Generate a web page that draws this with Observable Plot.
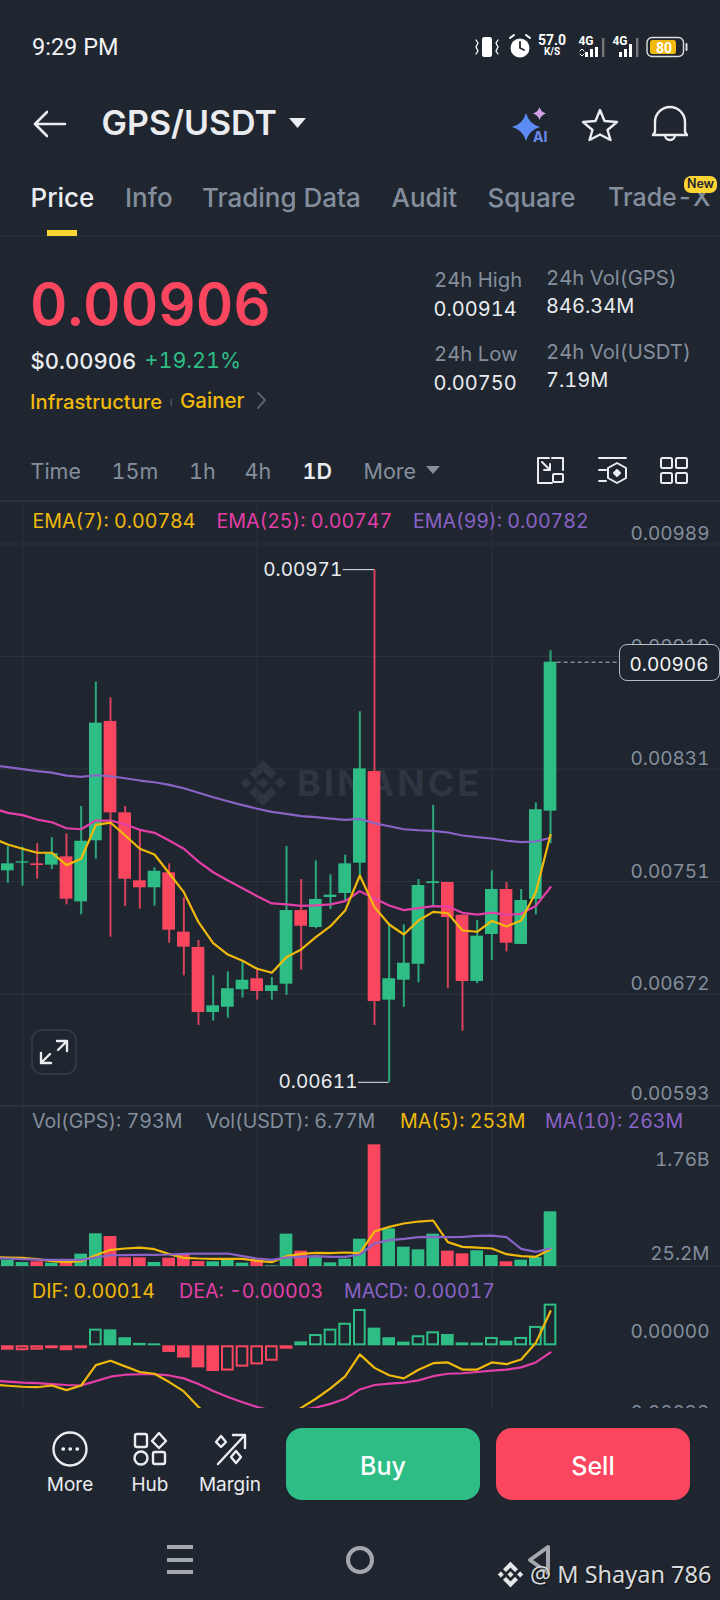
<!DOCTYPE html>
<html>
<head>
<meta charset="utf-8">
<script src="https://cdn.jsdelivr.net/npm/d3@7"></script>
<script src="https://cdn.jsdelivr.net/npm/@observablehq/plot@0.6"></script>
<style>
html,body{margin:0;padding:0;background:#1f2630}
#page{position:relative;width:720px;height:1600px;overflow:hidden;background:#1f2630;font-family:Inter,sans-serif;font-variant-numeric:tabular-nums}
.pane{position:absolute;left:0;width:720px}
.pane svg{display:block;background:transparent;font-variant-numeric:tabular-nums}
.t{position:absolute;line-height:1;white-space:nowrap}
</style>
</head>
<body>
<div id="page"></div>
<script>
// ---- price pane values
const open = [0.007595,0.007649,0.007644,0.007635,0.007693,0.007377,0.007806,0.008644,0.008002,0.007525,0.007476,0.007581,0.007164,0.007057,0.006600,0.006637,0.006760,0.006837,0.006748,0.006799,0.007316,0.007197,0.007408,0.007436,0.007649,0.008292,0.006687,0.006827,0.006939,0.007506,0.007513,0.007283,0.006818,0.007148,0.007464,0.007078,0.007394,0.008014];
const close = [0.007644,0.007658,0.007632,0.007715,0.007396,0.007803,0.008632,0.008002,0.007536,0.007476,0.007592,0.007178,0.007059,0.006600,0.006647,0.006767,0.006827,0.006748,0.006788,0.007316,0.007206,0.007394,0.007424,0.007644,0.008311,0.006677,0.006837,0.006946,0.007492,0.007518,0.007267,0.006818,0.007136,0.007464,0.007087,0.007387,0.008024,0.009060];
const high = [0.007766,0.007761,0.007785,0.007827,0.007855,0.008047,0.008920,0.008810,0.008047,0.007878,0.007616,0.007644,0.007406,0.007106,0.006858,0.006886,0.006965,0.006907,0.006846,0.007766,0.007534,0.007665,0.007567,0.007705,0.008712,0.009710,0.007223,0.007216,0.007534,0.008054,0.007513,0.007283,0.007246,0.007595,0.007513,0.007464,0.008073,0.009140];
const low = [0.007508,0.007487,0.007536,0.007604,0.007356,0.007286,0.007677,0.007129,0.007344,0.007326,0.007347,0.007087,0.006858,0.006509,0.006539,0.006560,0.006701,0.006687,0.006687,0.006720,0.006897,0.007188,0.007323,0.007380,0.007562,0.006509,0.006110,0.006637,0.006809,0.007340,0.006767,0.006469,0.006802,0.006965,0.007026,0.007078,0.007286,0.007785];
const ema7 = [0.007822,0.007780,0.007750,0.007722,0.007722,0.007635,0.007680,0.007918,0.007934,0.007843,0.007750,0.007710,0.007578,0.007445,0.007234,0.007087,0.007007,0.006963,0.006907,0.006879,0.006989,0.007043,0.007129,0.007206,0.007316,0.007562,0.007340,0.007218,0.007148,0.007246,0.007307,0.007297,0.007176,0.007167,0.007244,0.007204,0.007246,0.007445,0.007848];
const ema25 = [0.008033,0.008002,0.007986,0.007955,0.007936,0.007894,0.007887,0.007948,0.007948,0.007920,0.007883,0.007862,0.007808,0.007750,0.007660,0.007585,0.007527,0.007473,0.007417,0.007366,0.007359,0.007349,0.007352,0.007359,0.007382,0.007452,0.007401,0.007352,0.007319,0.007333,0.007347,0.007344,0.007300,0.007288,0.007302,0.007286,0.007293,0.007349,0.007480];
const ema99 = [0.008335,0.008323,0.008309,0.008295,0.008285,0.008264,0.008255,0.008266,0.008259,0.008245,0.008229,0.008217,0.008199,0.008175,0.008143,0.008112,0.008084,0.008056,0.008031,0.008009,0.007995,0.007979,0.007972,0.007962,0.007953,0.007960,0.007929,0.007908,0.007887,0.007880,0.007876,0.007864,0.007843,0.007831,0.007822,0.007806,0.007796,0.007801,0.007827];
const gridPrices = [0.00989,0.00910,0.00831,0.00752,0.00673,0.00594];
const priceLabels = ["0.00989","0.00910","0.00831","0.00751","0.00672","0.00593"];
const lastPrice = 0.00906, highPrice = 0.00971, lowPrice = 0.00611, highIdx = 25, lowIdx = 26;
// ---- volume pane values (millions)
const volume = [92,58,68,48,58,179,474,435,126,126,58,121,169,72,68,106,48,97,10,469,222,145,53,106,396,1764,546,280,242,469,222,184,228,160,68,92,130,793];
const volMA5 = [132,130,126,106,77,63,77,164,242,261,275,251,179,126,116,111,111,111,82,63,150,184,198,193,203,193,507,575,623,652,667,353,285,275,261,179,150,140,251];
const volMA10 = [118,116,106,101,97,97,97,130,164,164,169,169,174,184,188,188,188,150,116,97,130,140,150,140,140,174,333,382,401,425,430,425,430,444,449,425,256,213,261];
const volLabels = [{v:1764,s:"1.76B"},{v:25.2,s:"25.2M"}];
// ---- MACD pane values
const hist = [-0.000018,-0.000020,-0.000018,-0.000012,-0.000020,-0.000012,0.000068,0.000065,0.000033,0.000010,0.000008,-0.000027,-0.000050,-0.000090,-0.000105,-0.000103,-0.000087,-0.000078,-0.000063,-0.000014,0.000016,0.000046,0.000068,0.000092,0.000148,0.000072,0.000033,0.000015,0.000041,0.000057,0.000046,0.000012,0.000011,0.000034,0.000019,0.000034,0.000079,0.000170];
const dif = [-0.000158,-0.000163,-0.000167,-0.000169,-0.000162,-0.000181,-0.000162,-0.000079,-0.000061,-0.000084,-0.000107,-0.000114,-0.000148,-0.000186,-0.000250,-0.000300,-0.000340,-0.000360,-0.000380,-0.000385,-0.000300,-0.000253,-0.000216,-0.000174,-0.000125,-0.000035,-0.000090,-0.000120,-0.000133,-0.000098,-0.000071,-0.000068,-0.000097,-0.000097,-0.000068,-0.000075,-0.000056,0.000012,0.000141];
const dea = [-0.000142,-0.000146,-0.000150,-0.000152,-0.000156,-0.000160,-0.000162,-0.000144,-0.000126,-0.000118,-0.000116,-0.000116,-0.000121,-0.000133,-0.000156,-0.000184,-0.000209,-0.000230,-0.000250,-0.000264,-0.000270,-0.000262,-0.000252,-0.000237,-0.000216,-0.000178,-0.000160,-0.000154,-0.000150,-0.000141,-0.000124,-0.000114,-0.000112,-0.000107,-0.000101,-0.000097,-0.000088,-0.000068,-0.000027];
const macdLabels = [{v:0,s:"0.00000"},{v:-0.00033,s:"-0.00033"}];
const hollowHist = [1,2,6,15,16,17,18,19,20,21,22,23,24,28,29,33,35,36,37];
const gridIdx = [1,17,33];

const GREEN="#2ebd85", RED="#fb4660", YEL="#f0b90b", MAG="#e43fa8", PUR="#8a63c6", GRID="#2b323c", GREY="#848e9c", WHITE="#eaecef";
const idx = d3.range(38), lineIdx = d3.range(-1,38);
const page = document.getElementById("page");
const FONT = "Inter, sans-serif";
const xOpt = {domain:[-0.5,48.59],range:[0,720],axis:null};
const up = i => close[i] >= open[i];

// text helper for the app chrome
function T(s,x,base,size,color,weight=400,anchor="start",font="Inter, sans-serif",extra=""){
  const d=document.createElement("div");d.className="t";d.textContent=s;
  d.style.cssText=`left:${x}px;top:${base-0.864*size}px;font-size:${size}px;color:${color};font-weight:${weight};font-family:${font};`+
    (anchor==="end"?"transform:translateX(-100%);":anchor==="middle"?"transform:translateX(-50%);":"")+extra;
  page.appendChild(d);return d;
}
function S(svg,style=""){const d=document.createElement("div");d.style.cssText="position:absolute;left:0;top:0;"+style;d.innerHTML=svg;page.appendChild(d);}

// chrome drawing below the plots (watermark, separators)
S(`<svg width="720" height="1600" style="display:block">
<defs><symbol id="bnb" viewBox="-12 -12 24 24" overflow="visible"><path d="M0-2.8L2.8 0 0 2.8-2.8 0ZM-8.6-2.8L-5.8 0-8.6 2.8-11.4 0ZM8.6-2.8L11.4 0 8.6 2.8 5.8 0ZM0-11.5L6.8-4.7 4-1.9 0-5.9-4-1.9-6.8-4.7ZM0 11.5L-6.8 4.7-4 1.9 0 5.9 4 1.9 6.8 4.7Z"/></symbol></defs>
<use href="#bnb" x="239" y="759" width="48" height="48" fill="#2f3641"/>
<text x="297" y="796" font-family="Inter" font-weight="700" font-size="36" letter-spacing="3" fill="#2f3641">BINANCE</text>
<rect x="0" y="500" width="720" height="2" fill="${GRID}"/>
<rect x="0" y="1105" width="720" height="2" fill="${GRID}"/>
<rect x="0" y="1265.5" width="720" height="1.6" fill="${GRID}"/>
<rect x="0" y="235.5" width="720" height="1" fill="${GRID}"/>
</svg>`);

function pane(top,height,plot){const d=document.createElement("div");d.className="pane";d.style.top=top+"px";d.style.height=height+"px";d.appendChild(plot);page.appendChild(d);}
const axisStyle={fontFamily:FONT,fontSize:"19px",background:"transparent"};

// PRICE
pane(501,605,Plot.plot({
  width:720,height:605,margin:0,style:axisStyle,
  x:xOpt,
  y:{domain:[0.0059401,0.0101884],range:[605,0],axis:null},
  marks:[
    Plot.ruleY(gridPrices,{stroke:GRID,strokeWidth:1.2}),
    Plot.ruleX(gridIdx,{stroke:GRID,strokeWidth:1.2}),
    Plot.ruleX(idx,{x:i=>i,y1:i=>low[i],y2:i=>high[i],stroke:i=>up(i)?"#2aa97a":"#d8435a",strokeWidth:2}),
    Plot.rect(idx,{x1:i=>i-0.432,x2:i=>i+0.432,y1:i=>open[i],y2:i=>close[i],fill:i=>up(i)?GREEN:RED}),
    Plot.line(lineIdx,{x:d=>d,y:(d,i)=>ema99[i],stroke:PUR,strokeWidth:2.2}),
    Plot.line(lineIdx,{x:d=>d,y:(d,i)=>ema25[i],stroke:MAG,strokeWidth:2.2}),
    Plot.line(lineIdx,{x:d=>d,y:(d,i)=>ema7[i],stroke:YEL,strokeWidth:2.2}),
    Plot.ruleY([highPrice],{x1:highIdx-2.13,x2:highIdx,stroke:WHITE,strokeWidth:1}),
    Plot.ruleY([lowPrice],{x1:lowIdx-2.09,x2:lowIdx,stroke:WHITE,strokeWidth:1}),
    Plot.text([highPrice],{x:highIdx-2.13,y:d=>d,text:()=>"0.00971",textAnchor:"end",dx:-1,fill:WHITE}),
    Plot.text([lowPrice],{x:lowIdx-2.09,y:d=>d,text:()=>"0.00611",textAnchor:"end",dx:-1,fill:WHITE}),
    Plot.ruleY([lastPrice],{x1:37.45,x2:41.7,stroke:"#b7bdc6",strokeWidth:1,strokeDasharray:"4 3"}),
    Plot.text(gridPrices,{filter:(d,i)=>i<5,y:d=>d,text:(d,i)=>priceLabels[i],frameAnchor:"right",textAnchor:"end",dx:-11,dy:-10,fill:GREY}),
    Plot.text(gridPrices,{filter:(d,i)=>i===5,y:d=>d,text:(d,i)=>priceLabels[i],frameAnchor:"right",textAnchor:"end",dx:-11,dy:-13,fill:GREY})
  ]
}));

// VOLUME
pane(1106,160,Plot.plot({
  width:720,height:160,margin:0,style:axisStyle,
  x:xOpt,
  y:{domain:[0,2320],range:[160,0],axis:null},
  marks:[
    Plot.ruleX(gridIdx,{stroke:GRID,strokeWidth:1.2}),
    Plot.rect(idx,{x1:i=>i-0.432,x2:i=>i+0.432,y1:0,y2:i=>volume[i],fill:i=>up(i)?GREEN:RED}),
    Plot.line(lineIdx,{x:d=>d,y:(d,i)=>volMA5[i],stroke:YEL,strokeWidth:2.2}),
    Plot.line(lineIdx,{x:d=>d,y:(d,i)=>volMA10[i],stroke:PUR,strokeWidth:2.2}),
    Plot.text(volLabels,{y:d=>d.v,text:d=>d.s,frameAnchor:"right",textAnchor:"end",dx:-11,dy:15,fill:GREY,filter:d=>d.v>100}),
    Plot.text(volLabels,{y:d=>d.v,text:d=>d.s,frameAnchor:"right",textAnchor:"end",dx:-11,dy:-11,fill:GREY,filter:d=>d.v<100})
  ]
}));

// MACD
pane(1266,142,Plot.plot({
  width:720,height:142,margin:0,style:axisStyle,
  x:xOpt,
  y:{domain:[-0.0002558,0.0003235],range:[142,0],axis:null},
  marks:[
    Plot.ruleX(gridIdx,{stroke:GRID,strokeWidth:1.2}),
    Plot.rect(idx.filter(i=>!hollowHist.includes(i)),{x1:i=>i-0.432,x2:i=>i+0.432,y1:0,y2:i=>hist[i],fill:i=>hist[i]>=0?GREEN:RED}),
    Plot.rect(hollowHist,{x1:i=>i-0.432,x2:i=>i+0.432,y1:0,y2:i=>hist[i],fill:"none",stroke:i=>hist[i]>=0?GREEN:RED,strokeWidth:2,inset:1}),
    Plot.line(lineIdx,{x:d=>d,y:(d,i)=>dea[i],stroke:MAG,strokeWidth:2.2}),
    Plot.line(lineIdx,{x:d=>d,y:(d,i)=>dif[i],stroke:YEL,strokeWidth:2.2}),
    Plot.text(macdLabels,{y:d=>d.v,text:d=>d.s,frameAnchor:"right",textAnchor:"end",dx:-11,dy:-14,fill:GREY})
  ]
}));

// ---- chrome text
const ROB="Roboto, sans-serif";
T("9:29 PM",32,56,23.5,"#f2f3f4",400,"start",ROB);
T("GPS/USDT",101.5,135.5,34,WHITE,600);
["Price","Info","Trading Data","Audit","Square","Trade-X"].forEach((s,i)=>{
  T(s,[30.5,125,202,391.5,487.5,608][i],207,i===5?25:26,i?GREY:WHITE,500);
});
T("0.00906",30,325,58,RED,600);
T("$0.00906",30.5,369,22,WHITE,500);
T("+19.21%",144.5,369,21.5,GREEN,400);
T("Infrastructure",30,409,20.2,YEL,500);
T("Gainer",180,409,20.5,YEL,500);
T("24h High",434,287.5,20.3,GREY);T("0.00914",433.5,316,20,WHITE);
T("24h Low",434,361.5,20.3,GREY);T("0.00750",433.5,390,20,WHITE);
T("24h Vol(GPS)",546,285.5,20.3,GREY);T("846.34M",546,313.5,20,WHITE);
T("24h Vol(USDT)",546,359.5,20.3,GREY);T("7.19M",546,387.5,20,WHITE);
[["Time",30.5],["15m",111.5],["1h",189],["4h",244.5],["1D",302.5],["More",363.5]].forEach(([s,x])=>T(s,x,479.5,21.5,s==="1D"?WHITE:GREY,s==="1D"?600:400));
// legends
T("EMA(7): 0.00784",32.5,529,19.6,YEL);T("EMA(25): 0.00747",216.5,529,19.6,MAG);T("EMA(99): 0.00782",413,529,19.6,PUR);
T("Vol(GPS): 793M",32,1129,19.6,GREY);T("Vol(USDT): 6.77M",206,1129,19.6,GREY);T("MA(5): 253M",400,1129,19.6,YEL);T("MA(10): 263M",545,1129,19.6,PUR);
T("DIF: 0.00014",32,1299,19.6,YEL);T("DEA: -0.00003",179,1299,19.6,MAG);T("MACD: 0.00017",344,1299,19.6,PUR);
// last price box
const box=T("0.00906",669,671,19,"#f4f5f6",400,"middle");
const boxBg=document.createElement("div");boxBg.style.cssText="position:absolute;left:618.5px;top:643.5px;width:99px;height:35px;border:1.2px solid #b7bdc6;border-radius:8px;background:#1f2630";
page.insertBefore(boxBg,box);
// bottom bar
T("More",70,1491,19,WHITE,400,"middle");T("Hub",150,1491,19,WHITE,400,"middle");T("Margin",230,1491,19,WHITE,400,"middle");
S(`<svg width="720" height="1600" style="display:block">
<rect x="286" y="1428" width="194" height="72" rx="16" fill="${GREEN}"/><rect x="496" y="1428" width="194" height="72" rx="16" fill="${RED}"/>
</svg>`);
T("Buy",383,1476,25,"#fff",500,"middle");T("Sell",593,1476,25,"#fff",500,"middle");

// icons
S(`<svg width="720" height="1600" style="display:block" fill="none" stroke-linecap="round" stroke-linejoin="round">
<g stroke="#eaecef" stroke-width="2.6"><path d="M36 124H65M47 112L35 124 47 136"/></g>
<path d="M289 118H306L297.5 128Z" fill="#eaecef"/>
<path d="M526 113Q529 124 540 127Q529 130 526 141Q523 130 512 127Q523 124 526 113Z" fill="#5d8bf4"/>
<path d="M539.5 107Q541 112 546 113.5Q541 115 539.5 120Q538 115 533 113.5Q538 112 539.5 107Z" fill="#d3a0e8"/>
<text x="533" y="142" font-family="Inter" font-size="14" font-weight="700" fill="#6d8cf0" stroke="none">AI</text>
<path d="M600 110L604.5 121 617 122 607.5 130 610.5 140 600 134.5 589.5 140 592.5 130 583 122 595.5 121Z" stroke="#eaecef" stroke-width="2.4"/>
<path d="M655 132V122a15 15 0 0 1 30 0V132L687 135H653ZM665 135a5 5 0 0 0 10 0" stroke="#eaecef" stroke-width="2.4"/>
<rect x="47" y="230" width="30" height="6" fill="#fcd535" stroke="none"/>
<rect x="684" y="176" width="33" height="17" rx="7" fill="#fcd535" stroke="none"/>
<path d="M258 393L265 400 258 408" stroke="#5a6270" stroke-width="2"/>
<rect x="170.5" y="399" width="1.5" height="7" fill="#4a525e" stroke="none"/>
<path d="M426 466H440L433 474Z" fill="${GREY}"/>
<g stroke="#eaecef" stroke-width="2">
<path d="M549 458H538V483H552M563 458H552 M563 458V470M542 462L550 470M544 470H550V464"/><rect x="553" y="474" width="10" height="8" rx="1"/>
<path d="M599 458H626M599 470H606M599 481H606"/><path d="M617 463L626 468V478L617 483 608 478V468Z"/><path d="M617 470L620 473 617 476 614 473Z" fill="#eaecef"/>
<rect x="661" y="458" width="11" height="10" rx="1.5"/><rect x="676" y="458" width="11" height="10" rx="1.5"/><rect x="661" y="473" width="11" height="10" rx="1.5"/><rect x="676" y="473" width="11" height="10" rx="1.5"/>
</g>
<rect x="32" y="1030" width="44" height="44" rx="10" stroke="#323843" stroke-width="2" fill="#1f2630"/>
<g stroke="#eaecef" stroke-width="2.4"><path d="M57 1041H67V1051M67 1041L58 1050M41 1063L50 1054M41 1053V1063H51"/></g>
<g stroke="#eaecef" stroke-width="2.4">
<circle cx="70" cy="1449" r="16.5"/><path d="M63 1449h.5M70 1449h.5M77 1449h.5" stroke-width="3.4"/>
<rect x="135" y="1434" width="12" height="13" rx="2"/><path d="M159 1433L166 1441 159 1448 152 1441Z"/><circle cx="141" cy="1458" r="6.5"/><rect x="153" y="1452" width="12" height="12" rx="2"/>
<path d="M218 1464L244 1436M233 1435H245V1448M221 1436L226 1442 221 1447 216 1442ZM236 1451L241 1457 236 1463 231 1457Z"/>
</g>
<g stroke="#a4a7ab" stroke-width="4.2" stroke-linecap="butt"><path d="M167 1547H193M167 1560H193M167 1572H193"/></g>
<circle cx="360" cy="1560" r="12" stroke="#a4a7ab" stroke-width="4"/>
<path d="M548 1547V1573L530 1560Z" stroke="#a4a7ab" stroke-width="4"/>
<use href="#bnb" x="497" y="1561" width="27" height="27" fill="#e6e7e8" stroke="#333" stroke-width="0.3"/>
<g fill="#fff" stroke="none">
<rect x="482" y="37" width="10" height="20" rx="2.5"/>
<circle cx="520" cy="48" r="9.5"/>
</g>
<path d="M476 40L478 43 476 47 478 51 476 54M498 40L496 43 498 47 496 51 498 54" stroke="#fff" stroke-width="1.3"/>
<path d="M520 42V48L524 50" stroke="#1f2630" stroke-width="1.8"/><path d="M510 38L514 35M530 38L526 35" stroke="#fff" stroke-width="2"/>
<g fill="#fff" stroke="none">
<rect x="585" y="52" width="3" height="5"/><rect x="590" y="49" width="3" height="8"/><rect x="595" y="47" width="3" height="10"/><rect x="602" y="38" width="2.4" height="19" fill="#777"/>
<rect x="619" y="52" width="3" height="5"/><rect x="624" y="49" width="3" height="8"/><rect x="629" y="44" width="3" height="13"/><rect x="636" y="38" width="2.4" height="19" fill="#777"/>
</g>
<path d="M580 51L582 49 584 51M580 54L582 56 584 54" stroke="#fff" stroke-width="1"/>
<rect x="647" y="37.5" width="36.5" height="19" rx="5" stroke="#ddd" stroke-width="1.4"/>
<rect x="650" y="40" width="26" height="14" rx="2.5" fill="${YEL}" stroke="none"/>
<rect x="685.5" y="43" width="2" height="8" rx="1" fill="#ddd" stroke="none"/>
</svg>`);
T("New",700.5,189,12.5,"#1f2630",600,"middle");
T("57.0",552,45,14,"#fff",700,"middle",ROB);T("K/S",552,56,10,"#fff",700,"middle",ROB);
T("4G",586,45.5,12,"#fff",700,"middle",ROB);T("4G",620,45.5,12,"#fff",700,"middle",ROB);
T("80",664,53,14,"#fff",700,"middle",ROB);
const wm=T("@ M Shayan 786",530,1583,23.5,"#d9dbdd",400,"start","'Noto Sans',sans-serif");wm.style.textShadow="1px 1px 1px #111";
</script>
</body>
</html>
